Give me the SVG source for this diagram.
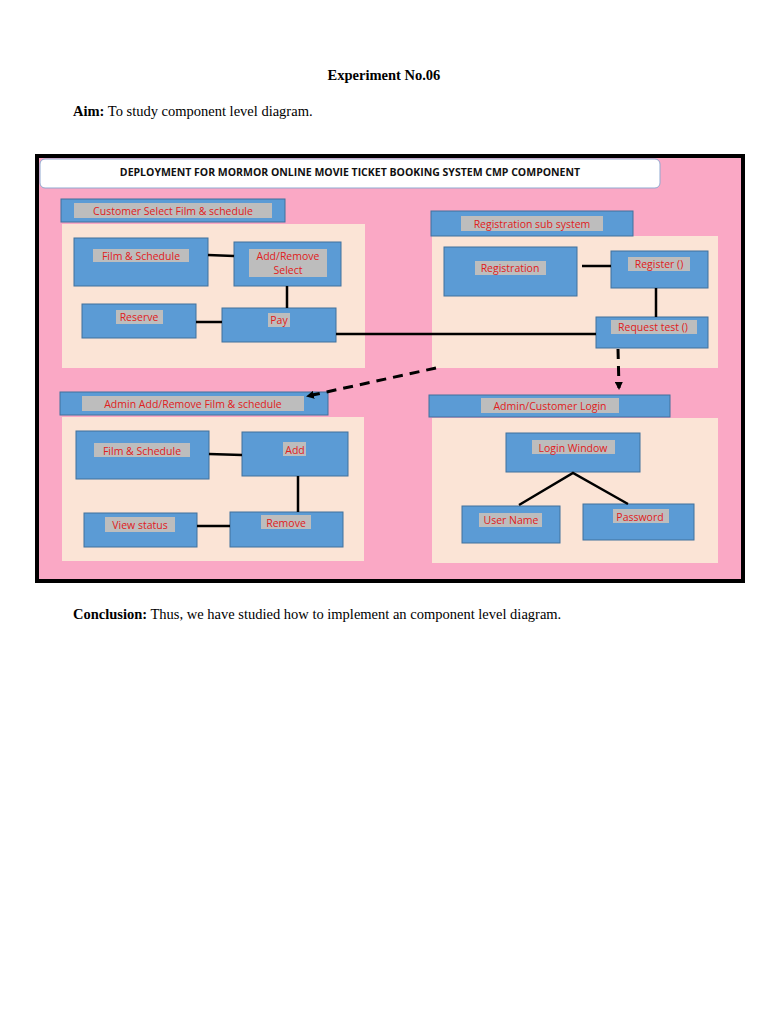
<svg xmlns="http://www.w3.org/2000/svg" width="768" height="1024" viewBox="0 0 768 1024">
<style>
.doc{font-family:"Liberation Serif",serif;font-size:14.5px;fill:#000}
.panel{fill:#FBE4D6}
.box{fill:#5B9BD5;stroke:#41719C;stroke-width:1}
.lbl{font-family:"Open Sans","DejaVu Sans",sans-serif;font-size:10.5px;fill:#E02020;text-anchor:middle}
.hl{fill:#BDBDBD}
.ln{stroke:#000;stroke-width:2.5;fill:none}
.dash{stroke:#000;stroke-width:3;fill:none;stroke-dasharray:10,7}
</style>
<defs><marker id="ah" markerWidth="8" markerHeight="8" refX="6" refY="4" orient="auto" markerUnits="userSpaceOnUse"><path d="M0,0 L8,4 L0,8 z" fill="#000"/></marker></defs>
<rect width="768" height="1024" fill="#fff"/>
<text class="doc" x="384" y="80" text-anchor="middle" font-weight="bold">Experiment No.06</text>
<text class="doc" x="73" y="116"><tspan font-weight="bold">Aim:</tspan> To study component level diagram.</text>
<text class="doc" x="73" y="619"><tspan font-weight="bold">Conclusion:</tspan> Thus, we have studied how to implement an component level diagram.</text>
<rect x="37" y="156" width="706" height="425" fill="#FAA8C5" stroke="#000" stroke-width="4"/>
<g id="title"><rect x="40" y="159" width="620" height="29" rx="5" fill="#fff" stroke="#8FA8D0"/><text x="350" y="176" font-family="'Open Sans','DejaVu Sans',sans-serif" font-size="10.5" font-weight="bold" text-anchor="middle" fill="#111">DEPLOYMENT FOR MORMOR ONLINE MOVIE TICKET BOOKING SYSTEM CMP COMPONENT</text></g>
<g id="customer">
<rect class="panel" x="62" y="224" width="303" height="144"/>
<rect class="box" x="61" y="199" width="224" height="23"/><rect class="hl" x="74" y="203" width="198" height="15"/><text class="lbl" x="173" y="215">Customer Select Film &amp; schedule</text>
</g>
<g id="c-film"><rect class="box" x="74" y="238" width="134" height="48"/><rect class="hl" x="93" y="249" width="96" height="13"/><text class="lbl" x="141" y="260">Film &amp; Schedule</text></g>
<g id="c-addremove"><rect class="box" x="234" y="242" width="107" height="44"/><rect class="hl" x="249" y="249" width="78" height="28"/><text class="lbl" x="288" y="260">Add/Remove</text><text class="lbl" x="288" y="274">Select</text></g>
<g id="c-reserve"><rect class="box" x="82" y="304" width="114" height="34"/><rect class="hl" x="116" y="310" width="47" height="14"/><text class="lbl" x="139" y="321">Reserve</text></g>
<g id="c-pay"><rect class="box" x="222" y="308" width="114" height="34"/><rect class="hl" x="268" y="313" width="22" height="14"/><text class="lbl" x="279" y="324">Pay</text></g>
<g id="registration">
<rect class="panel" x="432" y="236" width="286" height="132"/>
<rect class="box" x="431" y="211" width="202" height="25"/><rect class="hl" x="461" y="216" width="142" height="15"/><text class="lbl" x="532" y="228">Registration sub system</text>
</g>
<g id="r-reg"><rect class="box" x="444" y="247" width="133" height="49"/><rect class="hl" x="475" y="261" width="71" height="14"/><text class="lbl" x="510" y="272">Registration</text></g>
<g id="r-register"><rect class="box" x="611" y="251" width="97" height="37"/><rect class="hl" x="628" y="257" width="62" height="14"/><text class="lbl" x="659" y="268">Register ()</text></g>
<g id="r-request"><rect class="box" x="596" y="317" width="112" height="31"/><rect class="hl" x="611" y="320" width="86" height="14"/><text class="lbl" x="653" y="331">Request test ()</text></g>
<g id="admin">
<rect class="panel" x="62" y="417" width="302" height="144"/>
<rect class="box" x="60" y="392" width="268" height="23"/><rect class="hl" x="82" y="396" width="222" height="15"/><text class="lbl" x="193" y="408">Admin Add/Remove Film &amp; schedule</text>
</g>
<g id="a-film"><rect class="box" x="76" y="431" width="133" height="48"/><rect class="hl" x="94" y="443" width="96" height="14"/><text class="lbl" x="142" y="455">Film &amp; Schedule</text></g>
<g id="a-add"><rect class="box" x="242" y="432" width="106" height="44"/><rect class="hl" x="283" y="442" width="23" height="14"/><text class="lbl" x="295" y="454">Add</text></g>
<g id="a-view"><rect class="box" x="84" y="513" width="113" height="34"/><rect class="hl" x="105" y="517" width="70" height="15"/><text class="lbl" x="140" y="529">View status</text></g>
<g id="a-remove"><rect class="box" x="230" y="512" width="113" height="35"/><rect class="hl" x="261" y="515" width="50" height="14"/><text class="lbl" x="286" y="527">Remove</text></g>
<g id="login">
<rect class="panel" x="432" y="418" width="286" height="145"/>
<rect class="box" x="429" y="395" width="241" height="22"/><rect class="hl" x="481" y="398" width="138" height="15"/><text class="lbl" x="550" y="410">Admin/Customer Login</text>
</g>
<g id="l-window"><rect class="box" x="506" y="433" width="134" height="39"/><rect class="hl" x="532" y="440" width="83" height="14"/><text class="lbl" x="573" y="452">Login Window</text></g>
<g id="l-user"><rect class="box" x="462" y="506" width="98" height="37"/><rect class="hl" x="479" y="513" width="63" height="14"/><text class="lbl" x="511" y="524">User Name</text></g>
<g id="l-pass"><rect class="box" x="583" y="504" width="111" height="36"/><rect class="hl" x="613" y="509" width="56" height="14"/><text class="lbl" x="640" y="521">Password</text></g>
<g id="connectors">
<line class="ln" x1="208" y1="255" x2="234" y2="256"/>
<line class="ln" x1="287" y1="286" x2="287" y2="308"/>
<line class="ln" x1="196" y1="322" x2="222" y2="322"/>
<line class="ln" x1="336" y1="334" x2="596" y2="334"/>
<line class="ln" x1="582" y1="266" x2="611" y2="266"/>
<line class="ln" x1="656" y1="288" x2="656" y2="317"/>
<line class="ln" x1="209" y1="454" x2="242" y2="455"/>
<line class="ln" x1="298" y1="476" x2="298" y2="512"/>
<line class="ln" x1="197" y1="526" x2="230" y2="526"/>
<polyline class="ln" points="519,505 573,473 628,504"/>
<line class="dash" x1="618" y1="349" x2="619" y2="388" marker-end="url(#ah)"/>
<line class="dash" x1="436" y1="368" x2="308" y2="396" marker-end="url(#ah)"/>
</g>
</svg>
